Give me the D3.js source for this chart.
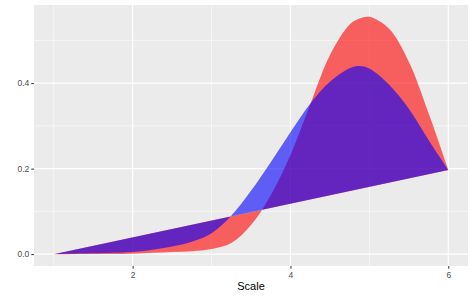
<!DOCTYPE html>
<html>
<head>
<meta charset="utf-8">
<script src="https://cdn.jsdelivr.net/npm/d3@7"></script>
<style>
  body { margin: 0; background: #fff; }
  text { font-family: "Liberation Sans", Arial, sans-serif; }
</style>
</head>
<body>
<svg id="chart" width="474" height="296"></svg>
<script>
// values
var scaleX = [1, 1.5, 2, 2.25, 2.5, 2.75, 3, 3.25, 3.5, 3.75, 4, 4.25, 4.5, 4.75, 4.875, 5, 5.25, 5.5, 5.75, 6];
var redY  = [0, 0.0005, 0.001, 0.003, 0.005, 0.007, 0.012, 0.026, 0.068, 0.138, 0.232, 0.35, 0.465, 0.537, 0.551, 0.555, 0.527, 0.45, 0.33, 0.197];
var blueY = [0, 0.002, 0.005, 0.010, 0.018, 0.029, 0.049, 0.09, 0.148, 0.215, 0.285, 0.352, 0.403, 0.435, 0.44, 0.434, 0.396, 0.34, 0.267, 0.197];
var xTicks = [2, 4, 6];
var xMinor = [1, 3, 5];
var yTicks = [0, 0.2, 0.4];
var yMinor = [0.1, 0.3, 0.5];

var svg = d3.select("#chart"),
    margin = {top: 5, right: 6, bottom: 30, left: 34},
    width = +svg.attr("width") - margin.left - margin.right,
    height = +svg.attr("height") - margin.top - margin.bottom;

var g = svg.append("g").attr("transform", "translate(" + margin.left + "," + margin.top + ")");

var x = d3.scaleLinear().domain([0.75, 6.25]).range([0, width]);
var y = d3.scaleLinear().domain([-0.02775, 0.58275]).range([height, 0]);

g.append("rect")
    .attr("width", width)
    .attr("height", height)
    .attr("fill", "#EBEBEB");

// grid
g.selectAll(".xminor").data(xMinor).enter().append("line")
    .attr("x1", function(d) { return x(d); }).attr("x2", function(d) { return x(d); })
    .attr("y1", 0).attr("y2", height)
    .attr("stroke", "#fff").attr("stroke-width", 0.55);
g.selectAll(".yminor").data(yMinor).enter().append("line")
    .attr("y1", function(d) { return y(d); }).attr("y2", function(d) { return y(d); })
    .attr("x1", 0).attr("x2", width)
    .attr("stroke", "#fff").attr("stroke-width", 0.55);
g.selectAll(".xmajor").data(xTicks).enter().append("line")
    .attr("x1", function(d) { return x(d); }).attr("x2", function(d) { return x(d); })
    .attr("y1", 0).attr("y2", height)
    .attr("stroke", "#fff").attr("stroke-width", 1.1);
g.selectAll(".ymajor").data(yTicks).enter().append("line")
    .attr("y1", function(d) { return y(d); }).attr("y2", function(d) { return y(d); })
    .attr("x1", 0).attr("x2", width)
    .attr("stroke", "#fff").attr("stroke-width", 1.1);

var line = d3.line()
    .x(function(d) { return x(d[0]); })
    .y(function(d) { return y(d[1]); })
    .curve(d3.curveCatmullRom.alpha(0.5));

function shape(vals, color) {
  var pts = scaleX.map(function(s, i) { return [s, vals[i]]; });
  g.append("path")
      .attr("d", line(pts) + "Z")
      .attr("fill", color)
      .attr("fill-opacity", 0.6)
      .attr("stroke", "none");
}
shape(redY, "#FF0000");
shape(blueY, "#0000FF");

// axes
var xAxis = g.append("g")
    .attr("transform", "translate(0," + height + ")")
    .call(d3.axisBottom(x).tickValues(xTicks).tickSize(2.75).tickPadding(3).tickFormat(d3.format("d")));
var yAxis = g.append("g")
    .call(d3.axisLeft(y).tickValues(yTicks).tickSize(2.75).tickPadding(2).tickFormat(d3.format(".1f")));

[xAxis, yAxis].forEach(function(a) {
  a.select(".domain").remove();
  a.selectAll("line").attr("stroke", "#333").attr("stroke-width", 1);
  a.selectAll("text").attr("fill", "#4D4D4D").style("font-size", "8.5px");
});

svg.append("text")
    .attr("x", margin.left + width / 2)
    .attr("y", 290)
    .attr("text-anchor", "middle")
    .attr("fill", "#000")
    .style("font-size", "11px")
    .text("Scale");
</script>
</body>
</html>
